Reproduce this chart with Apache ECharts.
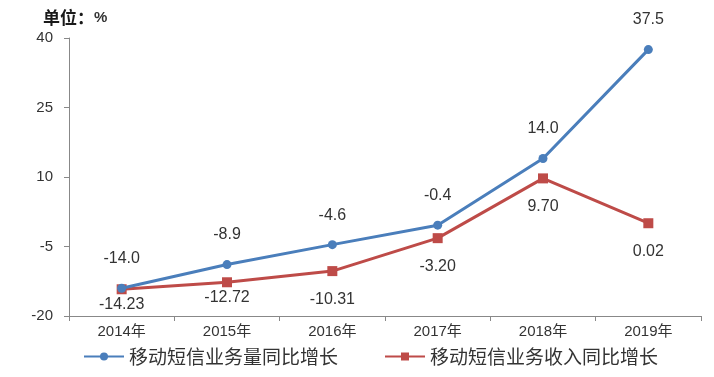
<!DOCTYPE html>
<html><head><meta charset="utf-8">
<script src="https://cdn.jsdelivr.net/npm/echarts@6/dist/echarts.min.js"></script>
<style>html,body{margin:0;padding:0;background:#fff}#c{width:714px;height:377px}</style>
</head><body><div id="c"></div>
<script>
var categories = ['2014年','2015年','2016年','2017年','2018年','2019年'];
var volumeGrowth = [-14.0, -8.9, -4.6, -0.4, 14.0, 37.5];
var revenueGrowth = [-14.23, -12.72, -10.31, -3.20, 9.70, 0.02];
var volumeLabels = ['-14.0','-8.9','-4.6','-0.4','14.0','37.5'];
var revenueLabels = ['-14.23','-12.72','-10.31','-3.20','9.70','0.02'];
var seriesNames = ['移动短信业务量同比增长','移动短信业务收入同比增长'];
var yMin = -20, yMax = 40, yStep = 15;

var font = '"Liberation Sans","Noto Sans CJK SC",sans-serif';
var cjk = '"Noto Sans CJK SC",sans-serif';
// labels close to the axis are pulled up, as the original did to avoid the category labels
var revenueData = revenueGrowth.map(function (v) {
  return (v - yMin < 8) ? {value: v, label: {distance: 2}} : v;
});
var chart = echarts.init(document.getElementById('c'));
chart.setOption({
  animation: false,
  textStyle: {fontFamily: font},
  title: {
    text: '{a|单位：}{b|%}', left: 38, top: 4,
    textStyle: {rich: {
      a: {fontSize: 17, fontWeight: 'bold', color: '#1a1a1a', fontFamily: cjk},
      b: {fontSize: 15, fontWeight: 'bold', color: '#333', fontFamily: font}
    }}
  },
  grid: {left: 69, right: 13, top: 38, bottom: 61, containLabel: false},
  legend: {
    bottom: 6, left: 78, itemGap: 46, itemWidth: 40, itemHeight: 10,
    textStyle: {fontSize: 19, color: '#333', fontFamily: cjk},
    data: seriesNames
  },
  xAxis: {
    type: 'category', data: categories, boundaryGap: true,
    axisLine: {onZero: false, lineStyle: {color: '#888', width: 1}},
    axisTick: {show: true, length: 5, lineStyle: {color: '#888'}},
    axisLabel: {fontSize: 15, color: '#333', margin: 8}
  },
  yAxis: {
    type: 'value', min: yMin, max: yMax, interval: yStep,
    axisLine: {show: true, lineStyle: {color: '#888', width: 1}},
    axisTick: {show: true, length: 5, lineStyle: {color: '#888'}},
    splitLine: {show: false},
    axisLabel: {fontSize: 15, color: '#333', margin: 16}
  },
  series: [
    {
      name: seriesNames[0], type: 'line', data: volumeGrowth,
      symbol: 'circle', symbolSize: 9,
      lineStyle: {color: '#4A7EBB', width: 3},
      itemStyle: {color: '#4A7EBB'},
      label: {show: true, position: 'top', distance: 17, fontSize: 16, color: '#333',
        formatter: function(p){ return volumeLabels[p.dataIndex]; }},
      z: 3
    },
    {
      name: seriesNames[1], type: 'line', data: revenueData,
      symbol: 'rect', symbolSize: 10,
      lineStyle: {color: '#BE4B48', width: 3},
      itemStyle: {color: '#BE4B48'},
      label: {show: true, position: 'bottom', distance: 15, fontSize: 16, color: '#333',
        formatter: function(p){ return revenueLabels[p.dataIndex]; }},
      z: 2
    }
  ]
});
</script></body></html>
